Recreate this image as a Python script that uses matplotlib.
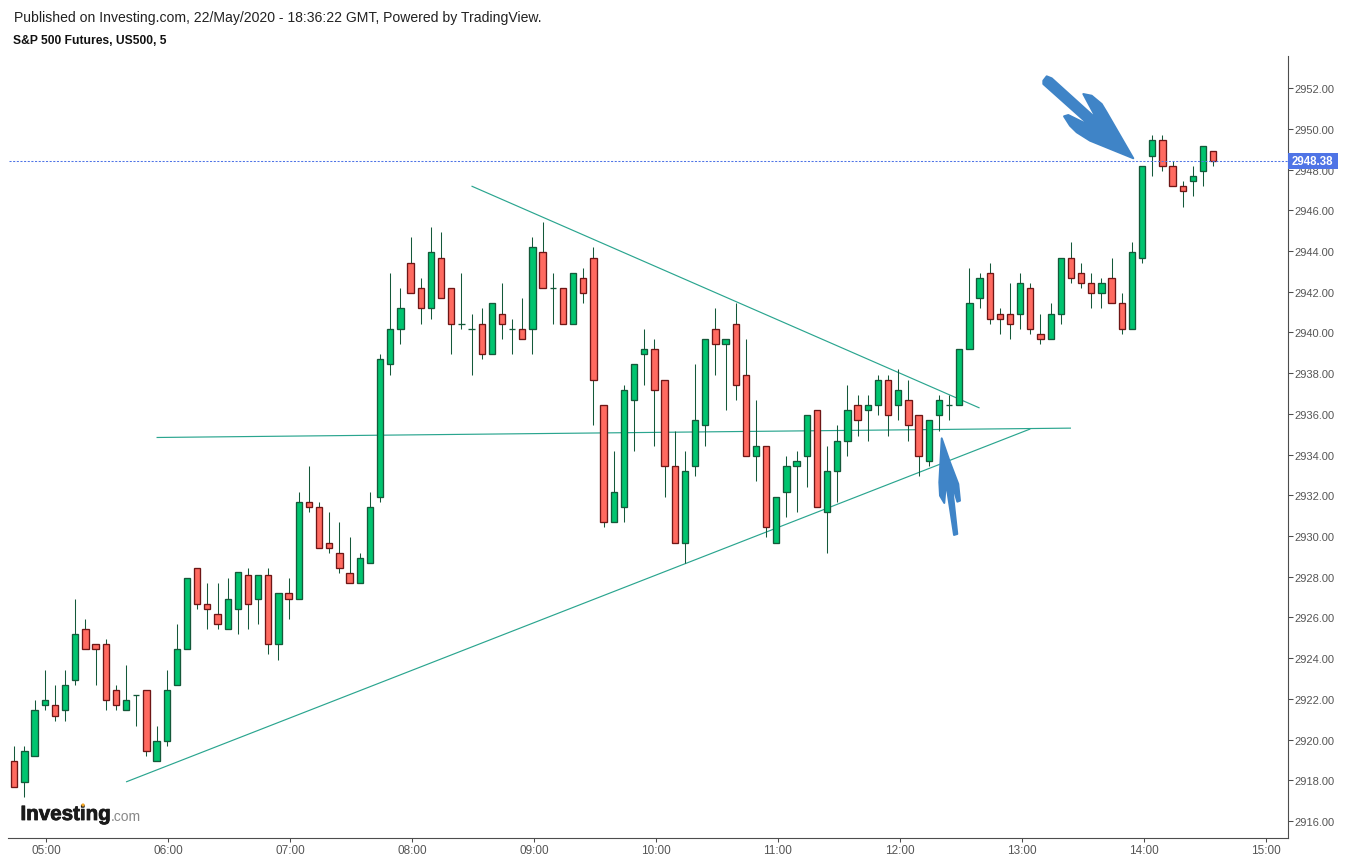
import matplotlib
matplotlib.use("Agg")
import matplotlib.pyplot as plt
import matplotlib.patheffects as pe
from matplotlib.patches import Circle, Polygon
from matplotlib.transforms import Affine2D

plt.rcParams['font.family'] = ['Liberation Sans', 'DejaVu Sans']

# 5 minute bars, first bar is 04:45
# read against a .00/.25/.50/.75 grid, QUOTE_SHIFT below moves them onto the feed's quotes
opens = [
    2919, 2918, 2919.25, 2921.75, 2921.75, 2921.5, 2923, 2925.5, 2924.75, 2924.75,
    2922.5, 2921.5, 2922.25, 2922.5, 2919, 2920, 2922.75, 2924.5, 2928.5, 2926.75,
    2926.25, 2925.5, 2926.5, 2928.15, 2927, 2928.15, 2924.75, 2927.25, 2927, 2931.75,
    2931.5, 2929.75, 2929.25, 2928.25, 2927.75, 2928.75, 2932, 2938.5, 2940.25, 2943.5,
    2942.25, 2941.25, 2943.75, 2942.25, 2940.5, 2940.25, 2940.5, 2939, 2941, 2940.25,
    2940.25, 2940.25, 2944, 2942.25, 2942.25, 2940.5, 2942.75, 2943.75, 2936.5, 2930.75,
    2931.5, 2936.75, 2939, 2939.25, 2937.75, 2933.5, 2929.75, 2933.5, 2935.5, 2940.25,
    2939.5, 2940.5, 2938, 2934, 2934.5, 2929.75, 2932.25, 2933.5, 2934, 2936.25,
    2931.25, 2933.25, 2934.75, 2936.5, 2936.25, 2936.5, 2937.75, 2936.5, 2936.75, 2936,
    2933.75, 2936, 2936.5, 2936.5, 2939.25, 2941.75, 2943, 2941, 2941, 2941,
    2942.25, 2940, 2939.75, 2941, 2943.75, 2943, 2942.5, 2942, 2942.75, 2941.5,
    2940.25, 2943.75, 2948.75, 2949.5, 2948.25, 2947.25, 2947.5, 2948, 2949,
]
highs = [
    2919.75, 2919.75, 2922, 2923.5, 2922.75, 2923.5, 2927, 2926, 2924.75, 2925,
    2922.75, 2923.75, 2922.25, 2922.5, 2920.75, 2923.5, 2925.75, 2928, 2928.5, 2927.75,
    2927.75, 2928, 2928.3, 2928.5, 2928.15, 2928.5, 2927.25, 2928, 2932.25, 2933.5,
    2931.75, 2931.25, 2930.75, 2930, 2929.25, 2932.25, 2939, 2943, 2942.25, 2944.75,
    2942.75, 2945.25, 2945, 2942.25, 2943, 2941, 2941.25, 2941.5, 2942.5, 2940.75,
    2941.75, 2944.75, 2945.5, 2943, 2942.25, 2943, 2943.25, 2944.25, 2936.5, 2934.25,
    2937.5, 2938.5, 2940.25, 2939.75, 2937.75, 2935.25, 2934.25, 2938.5, 2939.75, 2941.25,
    2939.75, 2941.5, 2939.75, 2936.75, 2934.5, 2932, 2934, 2934.25, 2936, 2936.25,
    2934.5, 2935.5, 2937.5, 2937, 2937, 2938, 2938, 2938.25, 2937.75, 2936,
    2935.75, 2937, 2937, 2939.25, 2943.25, 2943, 2943.5, 2941.25, 2942.5, 2943,
    2942.5, 2941, 2941.5, 2943.75, 2944.5, 2943.5, 2943, 2942.75, 2943.75, 2942,
    2944.5, 2948.25, 2949.75, 2949.75, 2948.5, 2947.5, 2948.25, 2949.25, 2949,
]
lows = [
    2917.75, 2917.25, 2919.25, 2921.5, 2921, 2921, 2922.75, 2924.5, 2922.75, 2921.5,
    2921.5, 2921.5, 2920.75, 2919.25, 2919, 2919.75, 2922.75, 2924.5, 2926.5, 2925.5,
    2925.5, 2925.5, 2925.25, 2925.5, 2925.75, 2924.25, 2924, 2926, 2927, 2931.25,
    2929.5, 2929.25, 2928.25, 2927.75, 2927.75, 2928.75, 2931.75, 2938, 2939.5, 2942,
    2940.5, 2940.75, 2941.75, 2939, 2940.25, 2938, 2938.75, 2939, 2939.75, 2939,
    2939.75, 2939, 2942.25, 2940.5, 2940.5, 2940.5, 2941.5, 2935.5, 2930.5, 2930.75,
    2930.75, 2934.25, 2937.5, 2934.5, 2932, 2929.75, 2928.75, 2933, 2934.5, 2938,
    2936.25, 2936.75, 2934, 2932.75, 2930, 2929.75, 2931, 2931.25, 2932.5, 2931.5,
    2929.25, 2931.75, 2934, 2935, 2934.75, 2936, 2935, 2935.75, 2934.75, 2933,
    2933.5, 2935.25, 2935.75, 2936.5, 2939.25, 2941.25, 2940.5, 2940, 2939.75, 2940.25,
    2940, 2939.5, 2939.75, 2940.5, 2942.5, 2942.25, 2941.25, 2941.25, 2941.5, 2940,
    2940.25, 2943.5, 2947.75, 2948, 2947.25, 2946.25, 2946.75, 2947.25, 2948.25,
]
closes = [
    2917.75, 2919.5, 2921.5, 2922, 2921.25, 2922.75, 2925.25, 2924.5, 2924.5, 2922,
    2921.75, 2922, 2922.25, 2919.5, 2920, 2922.5, 2924.5, 2928, 2926.75, 2926.5,
    2925.75, 2927, 2928.3, 2926.75, 2928.15, 2924.75, 2927.25, 2927, 2931.75, 2931.5,
    2929.5, 2929.5, 2928.5, 2927.75, 2929, 2931.5, 2938.75, 2940.25, 2941.25, 2942,
    2941.25, 2944, 2941.75, 2940.5, 2940.5, 2940.25, 2939, 2941.5, 2940.5, 2940.25,
    2939.75, 2944.25, 2942.25, 2942.25, 2940.5, 2943, 2942, 2937.75, 2930.75, 2932.25,
    2937.25, 2938.5, 2939.25, 2937.25, 2933.5, 2929.75, 2933.25, 2935.75, 2939.75, 2939.5,
    2939.75, 2937.5, 2934, 2934.5, 2930.5, 2932, 2933.5, 2933.75, 2936, 2931.5,
    2933.25, 2934.75, 2936.25, 2935.75, 2936.5, 2937.75, 2936, 2937.25, 2935.5, 2934,
    2935.75, 2936.75, 2936.5, 2939.25, 2941.5, 2942.75, 2940.75, 2940.75, 2940.5, 2942.5,
    2940.25, 2939.75, 2941, 2943.75, 2942.75, 2942.5, 2942, 2942.5, 2941.5, 2940.25,
    2944, 2948.25, 2949.5, 2948.25, 2947.25, 2947, 2947.75, 2949.25, 2948.5,
]

# quotes end in .13/.38/.63/.88 (last one is 2948.38)
QUOTE_SHIFT = -0.12
opens = [v + QUOTE_SHIFT for v in opens]
highs = [v + QUOTE_SHIFT for v in highs]
lows = [v + QUOTE_SHIFT for v in lows]
closes = [v + QUOTE_SHIFT for v in closes]

last_price = 2948.38
price_ticks = list(range(2916, 2954, 2))
hour_bars = [3, 15, 27, 39, 51, 63, 75, 87, 99, 111, 123]
hour_labels = ["05:00", "06:00", "07:00", "08:00", "09:00", "10:00",
               "11:00", "12:00", "13:00", "14:00", "15:00"]

# drawn trend lines: (bar, price) end points
falling_line = ([45, 95], [2947.14, 2936.24])
rising_line = ([11, 100], [2917.87, 2935.21])
flat_line = ([14, 104], [2934.79, 2935.25])

# hand drawn arrows, outline in image pixels
big_arrow = [
    (1043.3, 81.7), (1046.7, 77.3), (1051.7, 79.3), (1096.7, 120), (1083.3, 95),
    (1091.7, 96.7), (1101.7, 105), (1106.7, 113.3), (1133.3, 159.3), (1090, 141.7),
    (1076.7, 133.3), (1070, 126.7), (1064, 117.3), (1068.3, 116), (1090, 126.7),
    (1043.3, 85),
]
small_arrow = [
    (941.7, 439.3), (950, 463.3), (958.3, 485), (960, 501.7), (957.3, 502.7),
    (951.7, 483.3), (957.3, 535), (954, 536), (946, 483.3), (944.3, 504),
    (940, 496.7), (939.3, 483.3),
]

GREEN = "#00c46f"
GREEN_EDGE = "#14593a"
RED = "#ff6a60"
RED_EDGE = "#6e1616"
WICK = "#14593a"
TREND = "#2aa58f"
ARROW = "#3f84c7"
AXIS = "#4d4d4d"
TEXT = "#555555"
PRICE = "#4f74e6"

W, H = 1345, 862
fig = plt.figure(figsize=(W / 100, H / 100), dpi=100, facecolor="white")
ax = fig.add_axes([8.5 / W, 1 - 838.5 / H, (1287.5 - 8.5) / W, (838.5 - 57) / H])
ax.set_xlim(-0.57, 125.31)
ax.set_ylim(2915.14, 2953.53)

# pixel transform for page furniture
px = Affine2D().scale(1, -1).translate(0, H)

for line in (falling_line, rising_line, flat_line):
    ax.plot(line[0], line[1], color=TREND, lw=0.85, zorder=1, solid_capstyle="butt")

bars = list(range(len(opens)))
ax.vlines(bars, lows, highs, color=WICK, lw=0.75, zorder=2, snap=True)
for i, o, c in zip(bars, opens, closes):
    down = c < o
    ax.bar(i, abs(c - o), bottom=min(o, c), width=0.62,
           color=RED if down else GREEN,
           edgecolor=RED_EDGE if down else GREEN_EDGE, linewidth=0.95, zorder=3)

ax.axhline(last_price, color=PRICE, lw=0.75, ls=(0, (2, 1.5)), zorder=4)

ax.spines["top"].set_visible(False)
ax.spines["left"].set_visible(False)
ax.spines["right"].set_color(AXIS)
ax.spines["bottom"].set_color(AXIS)
ax.yaxis.tick_right()
# ticks sit about a pixel off the bars in the original
ax.set_yticks([t - 0.05 for t in price_ticks])
ax.set_yticklabels([f"{t:.2f}" for t in price_ticks])
ax.set_xticks([b + 0.15 for b in hour_bars])
ax.set_xticklabels(hour_labels)
ax.tick_params(axis="y", length=3.5, width=0.75, color=AXIS, labelcolor=TEXT,
               labelsize=8, pad=1.5)
ax.tick_params(axis="x", length=3, width=0.75, color=AXIS, labelcolor=TEXT,
               labelsize=8.5, pad=1.5)

# current price tag sits over the 2948 label
fig.patches.append(plt.Rectangle((1287.5, 154.3), 50.5, 15.4, transform=px,
                                 facecolor=PRICE, edgecolor="none", zorder=10))
fig.text(1312.5, 162.2, f"{last_price:.2f}", transform=px, color="white", fontsize=8.3,
         fontweight="bold", ha="center", va="center", zorder=11)

for outline in (big_arrow, small_arrow):
    fig.patches.append(Polygon(outline, closed=True, transform=px, facecolor=ARROW,
                               edgecolor=ARROW, lw=1.4, joinstyle="round", zorder=9))

fig.text(14, 18, "Published on Investing.com, 22/May/2020 - 18:36:22 GMT, Powered by TradingView.",
         transform=px, fontsize=10.1, color="#222222", ha="left", va="center")
fig.text(13, 41.5, "S&P 500 Futures, US500, 5", transform=px, fontsize=8.7,
         fontweight="bold", color="#111111", ha="left", va="center")

# logo
fig.text(20.5, 815.5, "Investing", transform=px, fontsize=14.8, fontweight="bold",
         color="#1a1a1a", ha="left", va="center", zorder=6,
         path_effects=[pe.withStroke(linewidth=0.6, foreground="#1a1a1a")])
fig.text(110.5, 817.5, ".com", transform=px, fontsize=10, color="#888888",
         ha="left", va="center", zorder=6)
fig.patches.append(Circle((83, 806), 1.6, transform=px, facecolor="#f5a623",
                          edgecolor="none", zorder=7))

fig.savefig("out.png", dpi=100)
